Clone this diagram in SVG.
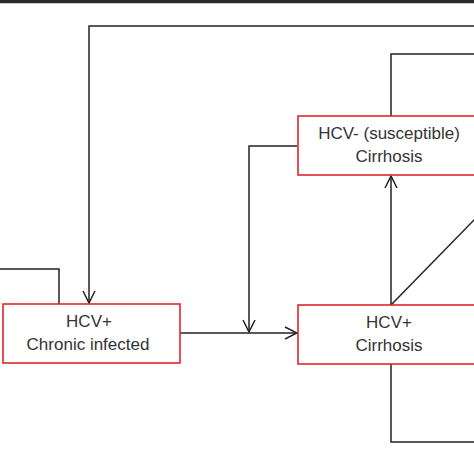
<svg xmlns="http://www.w3.org/2000/svg" width="474" height="474" viewBox="0 0 474 474">
<style>
.box{fill:#fff;stroke:#e0262b;stroke-width:1.6}
.lbl{font-family:"Liberation Sans",Arial,sans-serif;font-size:17px;fill:#333;text-anchor:middle}
.ln{fill:none;stroke:#222;stroke-width:1.5}
</style>
<defs>
<marker id="arr" viewBox="0 0 14 14" refX="13" refY="7" markerWidth="14" markerHeight="14" markerUnits="userSpaceOnUse" orient="auto">
<path d="M1,1 L13,7 L1,13" fill="none" stroke="#222" stroke-width="1.5"/>
</marker>
</defs>
<rect x="0" y="0" width="474" height="3.5" fill="#2a2a2a"/>
<rect x="0" y="3.5" width="474" height="470.5" fill="#fff"/>
<g id="connectors">
<path class="ln" d="M474,26 H89 V303" marker-end="url(#arr)"/>
<path class="ln" d="M0,269 H59 V304"/>
<path class="ln" d="M474,54 H391 V116"/>
<path class="ln" d="M180,333 H297" marker-end="url(#arr)"/>
<path class="ln" d="M297,146 H249 V332" marker-end="url(#arr)"/>
<path class="ln" d="M391,305 V176" marker-end="url(#arr)"/>
<path class="ln" d="M391,305 L476,218"/>
<path class="ln" d="M391,364 V442 H474"/>
</g>
<g id="chronic">
<rect class="box" x="3" y="304" width="177" height="59"/>
<text class="lbl" x="89" y="327">HCV+</text>
<text class="lbl" x="88" y="350">Chronic infected</text>
</g>
<g id="susceptible">
<rect class="box" x="298" y="116" width="190" height="59"/>
<text class="lbl" x="389" y="139">HCV- (susceptible)</text>
<text class="lbl" x="389" y="162">Cirrhosis</text>
</g>
<g id="cirrhosis">
<rect class="box" x="298" y="305" width="190" height="59"/>
<text class="lbl" x="389" y="328">HCV+</text>
<text class="lbl" x="389" y="351">Cirrhosis</text>
</g>
</svg>
